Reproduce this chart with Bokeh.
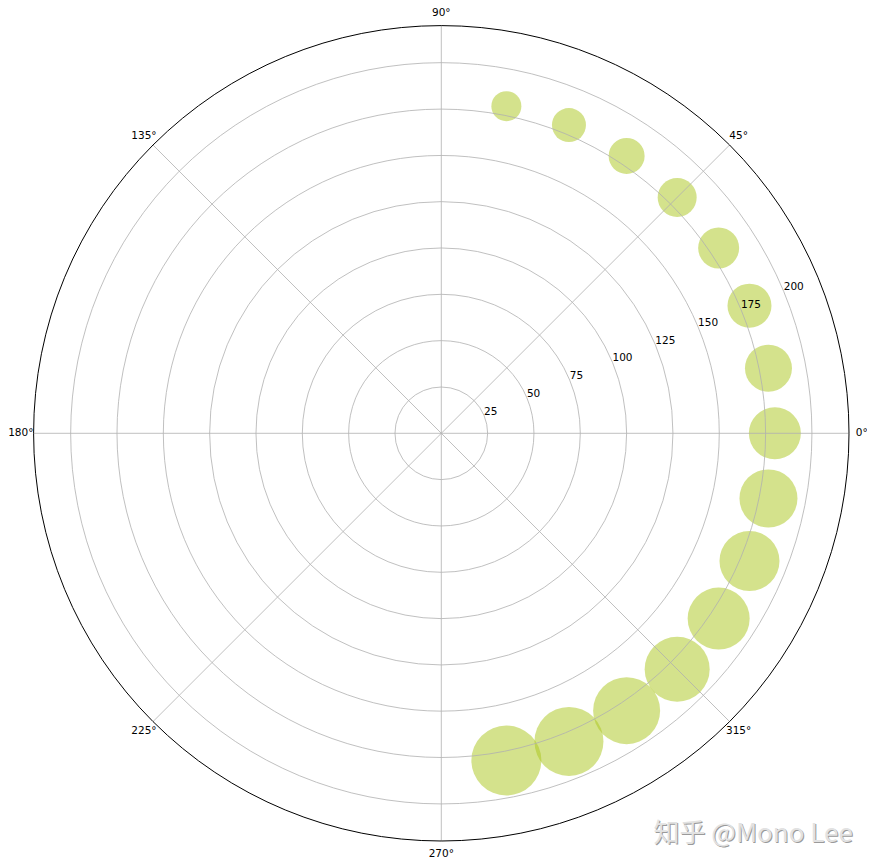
import numpy as np
from bokeh.plotting import figure
from bokeh.models import Label, ColumnDataSource
from bokeh.core.properties import value
from bokeh.embed import file_html
from bokeh.resources import INLINE

# ---- data ----
theta_deg = [78.75, 67.5, 56.25, 45.0, 33.75, 22.5, 11.25, 0.0,
             -11.25, -22.5, -33.75, -45.0, -56.25, -67.5, -78.75]
radius = [180] * 15
marker_px = [30, 34, 36, 39, 41, 44, 47, 52, 58, 60, 62, 65, 67, 69, 70]
r_ticks = [25, 50, 75, 100, 125, 150, 175, 200]
theta_ticks = [0, 45, 90, 135, 180, 225, 270, 315]
r_max = 220
watermark = "知乎 @Mono Lee"

# ---- geometry of canvas ----
W, H = 867, 859
cx, cy = 440.8, 432.8          # centre in canvas px (from top-left)
scale = 407.7 / r_max          # px per data unit

p = figure(width=W, height=H, output_backend="svg", toolbar_location=None,
           x_range=(-cx / scale, (W - cx) / scale),
           y_range=(-(H - cy) / scale, cy / scale),
           min_border=0, outline_line_color=None)
p.axis.visible = False
p.grid.visible = False
p.background_fill_color = "white"
p.border_fill_color = "white"

# scatter points
th = np.deg2rad(np.array(theta_deg))
rr = np.array(radius, dtype=float)
src = ColumnDataSource(dict(x=rr * np.cos(th), y=rr * np.sin(th), s=marker_px))
p.scatter("x", "y", size="s", source=src, fill_color="#a9c519",
          fill_alpha=0.5, line_color=None)

# grid rings
p.circle(x=[0] * len(r_ticks), y=[0] * len(r_ticks), radius=r_ticks,
         fill_color=None, line_color="#b0b0b0", line_width=0.8)
# spokes
ta = np.deg2rad(np.array(theta_ticks, dtype=float))
p.segment(x0=[0] * len(ta), y0=[0] * len(ta),
          x1=r_max * np.cos(ta), y1=r_max * np.sin(ta),
          line_color="#b0b0b0", line_width=0.8)
# outer spine
p.circle(x=[0], y=[0], radius=[r_max], fill_color=None,
         line_color="black", line_width=1.0)

# radial tick labels at 22.5 deg
rl = np.deg2rad(22.5)
rt = np.array(r_ticks, dtype=float)
p.text(x=rt * np.cos(rl), y=rt * np.sin(rl), text=[str(v) for v in r_ticks],
       text_font=value("DejaVu Sans"), text_font_size="10.5px",
       text_align="left", text_baseline="alphabetic", text_color="black",
       y_offset=-5)

# angular tick labels
lab_r = 420.5 / scale
p.text(x=lab_r * np.cos(ta), y=lab_r * np.sin(ta),
       text=[f"{t}°" for t in theta_ticks],
       text_font=value("DejaVu Sans"), text_font_size="10.5px",
       text_align="center", text_baseline="middle", text_color="black",
       y_offset=-1)

# watermark (embossed look)
p.add_layout(Label(x=654, y=H - 830.5, x_units="screen", y_units="screen",
                   text=watermark, text_font="Noto Sans CJK SC",
                   text_font_size="26px", text_color="#9a9a9a",
                   text_baseline="middle", text_align="left"))
p.add_layout(Label(x=653, y=H - 829.5, x_units="screen", y_units="screen",
                   text=watermark, text_font="Noto Sans CJK SC",
                   text_font_size="26px", text_color="#e2e2e2",
                   text_baseline="middle", text_align="left"))

open("out.html", "w").write(file_html(p, INLINE))
